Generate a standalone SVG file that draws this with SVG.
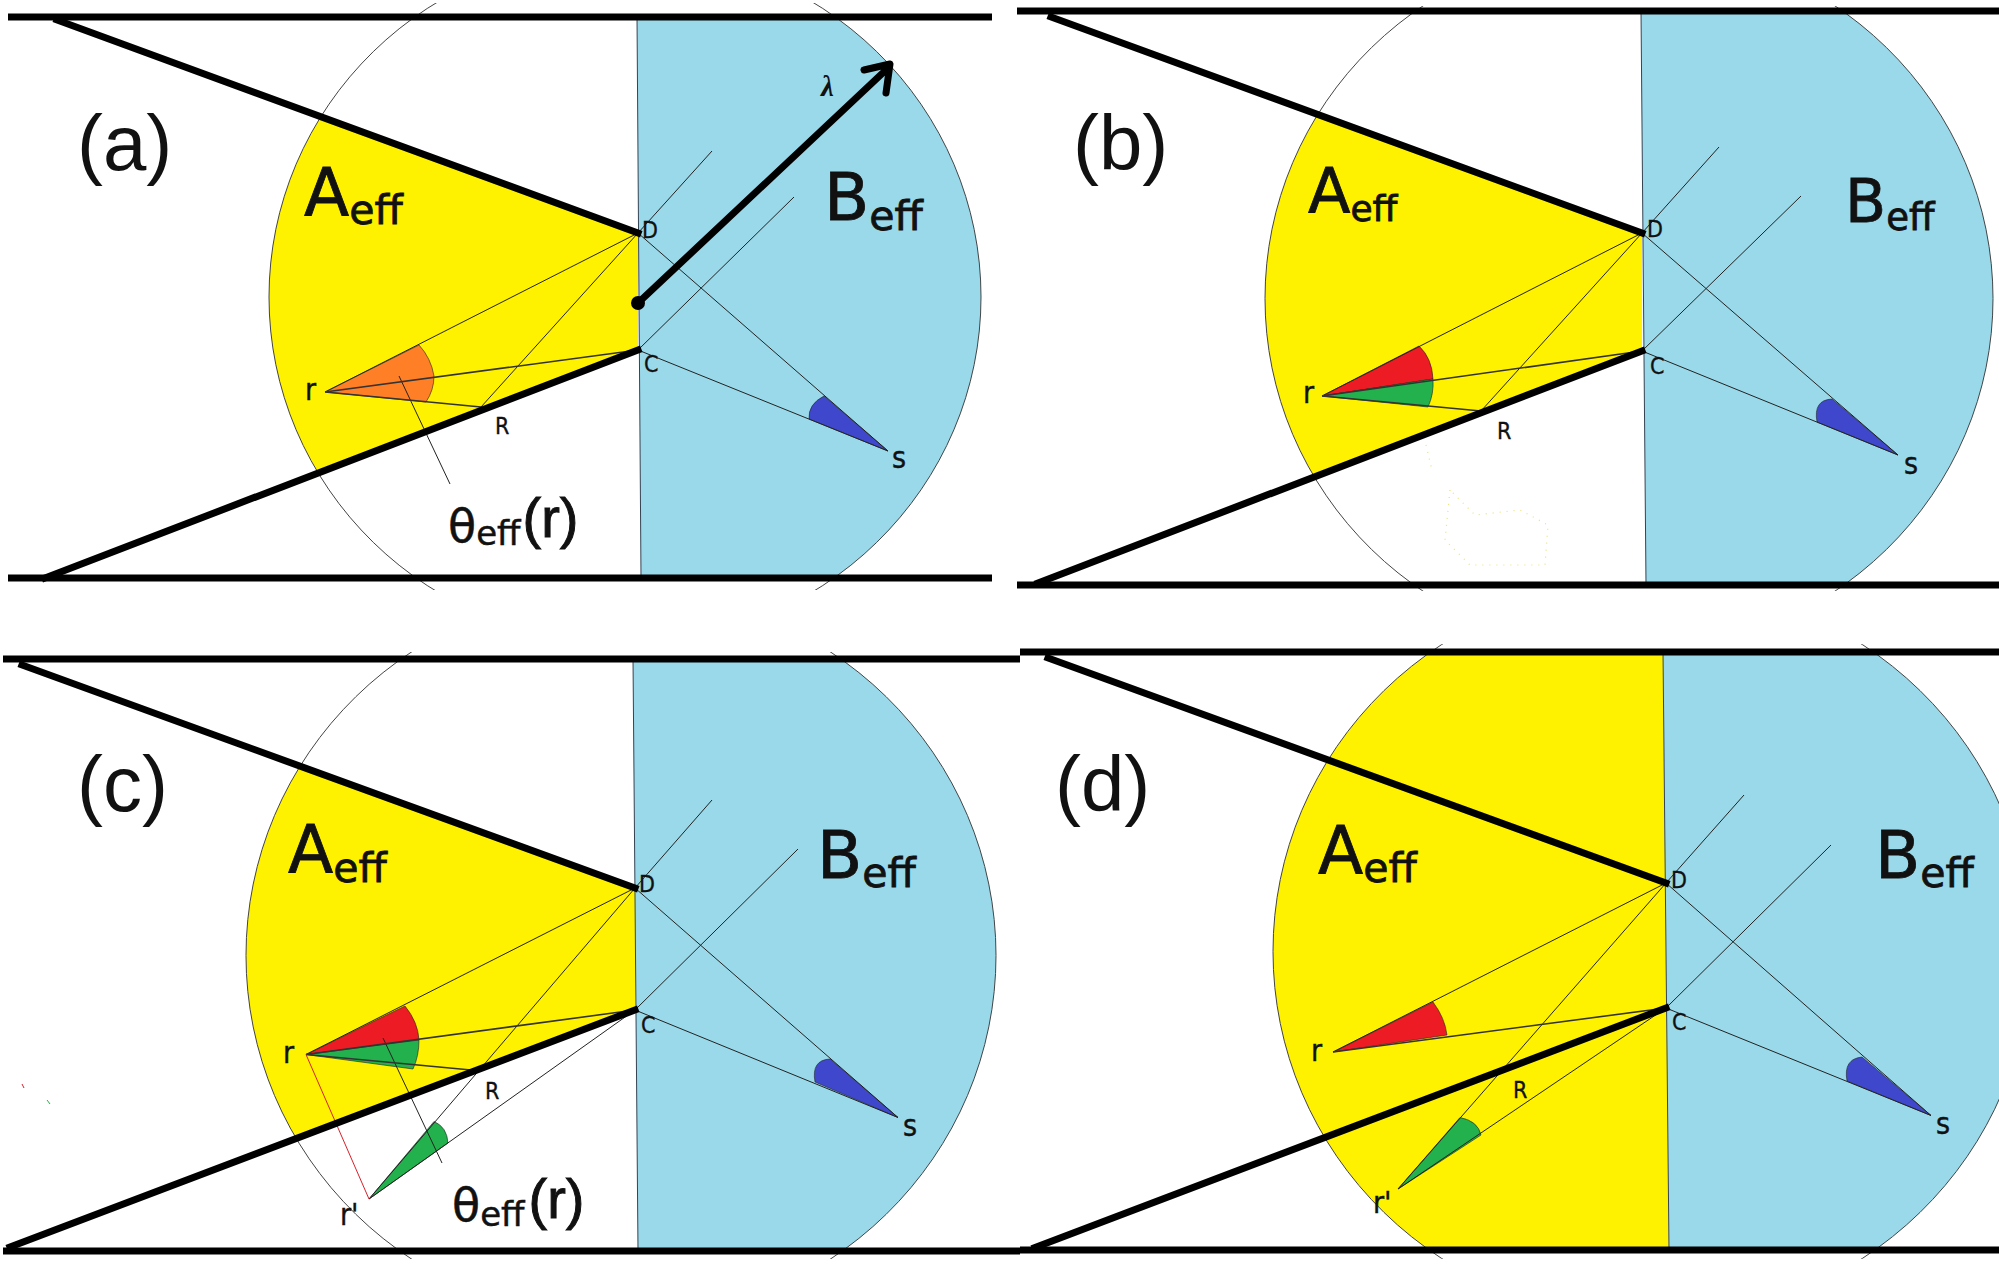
<svg xmlns="http://www.w3.org/2000/svg" width="1999" height="1267" viewBox="0 0 1999 1267">
<style>
text{font-family:"DejaVu Sans",sans-serif;fill:#111}
.bar{stroke:#000;stroke-width:7;fill:none}
.wedge{stroke:#000;stroke-width:7;fill:none;stroke-linecap:square}
.thin{stroke:#222;stroke-width:1;fill:none}
.rc{stroke:#333;stroke-width:1.6;fill:none}
.circ{stroke:#444;stroke-width:1;fill:none}
.div{stroke:#345;stroke-width:1;fill:none}
.yel{fill:#fff200}
.blu{fill:#99d9ea}
.sec{stroke:#222;stroke-width:.6}
.title{font-family:"Liberation Sans",sans-serif;font-size:78px}
.big{font-size:66px;stroke:#111;stroke-width:.8}
.sub{font-size:41px}
.theta{font-size:46px;stroke:#111;stroke-width:.5}
.thsub{font-size:34px}
.thr{font-family:"Liberation Sans",sans-serif;font-size:56px;stroke:#111;stroke-width:1}
.lbl{font-size:23px;font-stretch:condensed;stroke:#111;stroke-width:.3}
.pt{font-size:30px;font-stretch:condensed;stroke:#111;stroke-width:.4}
</style>
<defs>
  <clipPath id="ea"><ellipse cx="625" cy="297" rx="356" ry="347"/></clipPath>
  <clipPath id="eb"><ellipse cx="1629" cy="298.5" rx="364" ry="355"/></clipPath>
  <clipPath id="ec"><ellipse cx="621" cy="955.5" rx="375" ry="366"/></clipPath>
  <clipPath id="ed"><ellipse cx="1652" cy="951.5" rx="379" ry="369"/></clipPath>
  <clipPath id="ra"><rect x="0" y="3" width="1000" height="587"/></clipPath>
  <clipPath id="rb"><rect x="1000" y="6" width="999" height="585"/></clipPath>
  <clipPath id="rc"><rect x="0" y="652" width="1000" height="607"/></clipPath>
  <clipPath id="rd"><rect x="1000" y="644" width="999" height="615"/></clipPath>
</defs>
<rect width="1999" height="1267" fill="#fff"/>

<g id="panel-a">
  <path class="yel" clip-path="url(#ea)" d="M638,233 L100,36 V557 L638,350 Z"/>
  <path class="blu" clip-path="url(#ea)" d="M637,17 H1000 V578 H641 Z"/>
  <ellipse class="circ" clip-path="url(#ra)" cx="625" cy="297" rx="356" ry="347"/>
  <path class="div" d="M637,17 L641,578"/>
  <path fill="#ff7f27" class="sec" d="M325,392 L419,345 Q431,358 434,376 Q434,390 426,402 Z"/>
  <path fill="#3f48cc" class="sec" d="M888,451 L824,396 Q808,404 809,419 Z"/>
  <g id="connectors-a">
    <path class="thin" d="M325,392 L638,233 M481,407 L638,233 L712,151 M888,451 L638,233 M888,451 L638,350 L794,197 M399,376 L450,484"/>
    <path class="rc" d="M325,392 L638,350 M325,392 L481,407"/>
    <path class="bar" d="M8,17 H992 M8,578 H992"/>
    <path class="wedge" d="M57,20 L638,233 M45,578 L638,350"/>
    <circle cx="638" cy="303" r="7" fill="#000"/>
    <path d="M638,303 L888,68 M864,70 L890,64 L886,93" fill="none" stroke="#000" stroke-width="7" stroke-linecap="round" stroke-linejoin="round"/>
  </g>
  <text class="title" x="77" y="170">(a)</text>
  <text class="big" x="304" y="215">A<tspan class="sub" dy="9">eff</tspan></text>
  <text class="big" x="824" y="220">B<tspan class="sub" dy="10">eff</tspan></text>
  <text class="theta" x="448" y="542">θ<tspan class="thsub" dy="3">eff</tspan><tspan class="thr" dy="-8" dx="2">(r)</tspan></text>
  <text x="821" y="96" font-size="29" font-style="italic" font-weight="bold" style="font-family:'Liberation Serif',serif">λ</text>
  <text class="lbl" x="642" y="238">D</text>
  <text class="lbl" x="644" y="372">C</text>
  <text class="lbl" x="495" y="434">R</text>
  <text class="pt" x="305" y="400">r</text>
  <text class="pt" x="892" y="468">s</text>
</g>

<g id="panel-b">
  <path class="yel" clip-path="url(#eb)" d="M1642,233 L1100,35 V559 L1642,351 Z"/>
  <path class="blu" clip-path="url(#eb)" d="M1641,11 H1999 V585 H1646 Z"/>
  <ellipse class="circ" clip-path="url(#rb)" cx="1629" cy="298.5" rx="364" ry="355"/>
  <path class="div" d="M1641,11 L1646,585"/>
  <path fill="#ed1c24" class="sec" d="M1322,396 L1419,346 Q1432,358 1433,379 Z"/>
  <path fill="#22b14c" class="sec" d="M1322,396 L1433,379 Q1434,394 1428,407 Z"/>
  <path fill="#3f48cc" class="sec" d="M1898,455 L1832,399 Q1813,400 1817,422 Z"/>
  <g id="connectors-b">
    <path class="thin" d="M1322,396 L1642,233 M1481,411 L1642,233 L1719,147 M1898,455 L1642,233 M1898,455 L1642,351 L1801,196"/>
    <path class="rc" d="M1322,396 L1642,351 M1322,396 L1481,411"/>
    <path class="bar" d="M1017,11 H1999 M1017,585 H1999"/>
    <path class="wedge" d="M1051,17 L1642,233 M1038,583 L1642,351"/>
  </g>
  <path d="M1426,445 L1432,470 M1450,490 L1445,540 L1470,565 L1545,565 L1548,525 L1520,510 L1475,515 L1450,490" fill="none" stroke="#ebe270" stroke-width="1.2" stroke-dasharray="1 6"/>
  <text class="title" x="1073" y="170">(b)</text>
  <text class="big" x="1308" y="213" style="font-size:62px">A<tspan class="sub" dy="8" style="font-size:36px">eff</tspan></text>
  <text class="big" x="1845" y="222" style="font-size:60px">B<tspan class="sub" dy="8" style="font-size:37px">eff</tspan></text>
  <text class="lbl" x="1647" y="237">D</text>
  <text class="lbl" x="1650" y="374">C</text>
  <text class="lbl" x="1497" y="439">R</text>
  <text class="pt" x="1303" y="403">r</text>
  <text class="pt" x="1904" y="474">s</text>
</g>

<g id="panel-c">
  <path class="yel" clip-path="url(#ec)" d="M635,888 L100,693 V1213 L635,1010 Z"/>
  <path class="blu" clip-path="url(#ec)" d="M633,659 H1000 V1251 H638 Z"/>
  <ellipse class="circ" clip-path="url(#rc)" cx="621" cy="955.5" rx="375" ry="366"/>
  <path class="div" d="M633,659 L638,1251"/>
  <path fill="#ed1c24" class="sec" d="M306,1054.5 L405,1006 Q418,1022 419,1040 Z"/>
  <path fill="#22b14c" class="sec" d="M306,1054.5 L419,1040 Q419,1056 413,1069 Z"/>
  <path fill="#22b14c" class="sec" d="M369,1199 L434,1121.5 Q447,1127 448,1143 Z"/>
  <path fill="#3f48cc" class="sec" d="M898,1117.5 L830,1059 Q811,1060 815,1082 Z"/>
  <g id="connectors-c">
    <path class="thin" d="M306,1054.5 L635,888 M369,1199 L635,888 L712,800 M369,1199 L635,1010 M898,1117.5 L635,888 M898,1117.5 L635,1010 L798,849 M383,1038 L442,1163"/>
    <path class="rc" d="M306,1054.5 L635,1010 M306,1054.5 L471,1070"/>
    <path d="M306,1054.5 L369,1199" stroke="#d8202a" stroke-width="1" fill="none"/>
    <path class="bar" d="M3,659 H1020 M3,1251 H1020"/>
    <path class="wedge" d="M22,665 L635,888 M10,1247 L635,1010"/>
  </g>
  <path d="M22,1084 l2,4" stroke="#d8202a" stroke-width="1"/>
  <path d="M47,1100 l3,4" stroke="#22b14c" stroke-width="1"/>
  <text class="title" x="77" y="811">(c)</text>
  <text class="big" x="288" y="872">A<tspan class="sub" dy="10">eff</tspan></text>
  <text class="big" x="817" y="878">B<tspan class="sub" dy="9">eff</tspan></text>
  <text class="theta" x="452" y="1221">θ<tspan class="thsub" dy="5">eff</tspan><tspan class="thr" dy="-8" dx="4">(r)</tspan></text>
  <text class="lbl" x="639" y="892">D</text>
  <text class="lbl" x="641" y="1033">C</text>
  <text class="lbl" x="485" y="1099">R</text>
  <text class="pt" x="283" y="1063">r</text>
  <text class="pt" x="340" y="1225">r'</text>
  <text class="pt" x="903" y="1136">s</text>
</g>

<g id="panel-d">
  <path class="yel" clip-path="url(#ed)" d="M1663,652 H1200 V1250 H1669 Z"/>
  <path class="blu" clip-path="url(#ed)" d="M1663,652 H1999 V1250 H1669 Z"/>
  <ellipse class="circ" clip-path="url(#rd)" cx="1652" cy="951.5" rx="379" ry="369"/>
  <path class="div" d="M1663,652 L1669,1250"/>
  <path fill="#ed1c24" class="sec" d="M1333,1052 L1433,1002 Q1445,1018 1447,1035 Z"/>
  <path fill="#22b14c" class="sec" d="M1398,1189 L1460,1117.5 Q1478,1121 1481,1135 Z"/>
  <path fill="#3f48cc" class="sec" d="M1931,1115.5 L1862,1057 Q1843,1059 1847,1081 Z"/>
  <g id="connectors-d">
    <path class="thin" d="M1333,1052 L1666,883 M1398,1189 L1666,883 L1744,795 M1398,1189 L1666,1008 M1931,1115.5 L1666,883 M1931,1115.5 L1666,1008 L1831,845"/>
    <path class="rc" d="M1333,1052 L1666,1008"/>
    <path class="bar" d="M1020,652 H1999 M1020,1250 H1999"/>
    <path class="wedge" d="M1048,658 L1666,883 M1035,1247.5 L1666,1008"/>
  </g>
  <text class="title" x="1055" y="811">(d)</text>
  <text class="big" x="1318" y="873">A<tspan class="sub" dy="9">eff</tspan></text>
  <text class="big" x="1875" y="878">B<tspan class="sub" dy="9">eff</tspan></text>
  <text class="lbl" x="1671" y="888">D</text>
  <text class="lbl" x="1672" y="1030">C</text>
  <text class="lbl" x="1513" y="1098">R</text>
  <text class="pt" x="1311" y="1061">r</text>
  <text class="pt" x="1373" y="1213">r'</text>
  <text class="pt" x="1936" y="1134">s</text>
</g>
</svg>
